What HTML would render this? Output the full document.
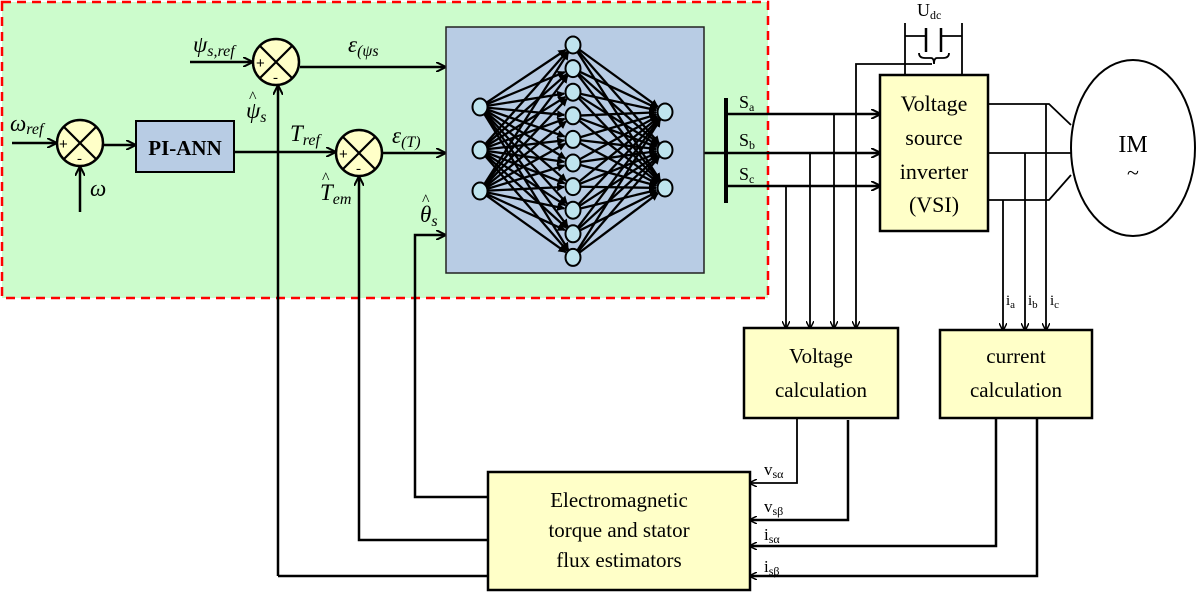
<!DOCTYPE html>
<html><head><meta charset="utf-8"><style>
html,body{margin:0;padding:0;background:#fff;}
svg{display:block;}
text{font-family:"Liberation Serif",serif;fill:#000;}
.it{font-style:italic;}
</style></head><body>
<svg width="1200" height="595" viewBox="0 0 1200 595" xmlns="http://www.w3.org/2000/svg">
<defs>
<marker id="a" markerWidth="10" markerHeight="10" refX="9" refY="5" orient="auto" markerUnits="userSpaceOnUse">
<path d="M0,0 L10,5 L0,10" fill="none" stroke="#000" stroke-width="2"/></marker>
<marker id="s" markerWidth="8" markerHeight="8" refX="7" refY="4" orient="auto" markerUnits="userSpaceOnUse">
<path d="M0,0 L8,4 L0,8" fill="none" stroke="#000" stroke-width="1.5"/></marker>
<marker id="n" markerWidth="8" markerHeight="8" refX="7" refY="4" orient="auto" markerUnits="userSpaceOnUse">
<path d="M0,0 L8,4 L0,8 z" fill="#000"/></marker>
</defs>
<rect x="2" y="2" width="766" height="296" fill="#ccfccc" stroke="#f00" stroke-width="2.5" stroke-dasharray="9,6"/>
<g stroke="#000" stroke-width="2.5" fill="none">
<line x1="12" y1="143" x2="56" y2="143" marker-end="url(#a)"/>
<line x1="80" y1="212" x2="80" y2="167" marker-end="url(#a)"/>
<line x1="104" y1="145" x2="135" y2="145" marker-end="url(#a)"/>
<line x1="234" y1="152" x2="335" y2="152" marker-end="url(#a)"/>
<line x1="190" y1="62" x2="252" y2="62" marker-end="url(#a)"/>
<line x1="300" y1="67" x2="445" y2="67" marker-end="url(#a)"/>
<line x1="383" y1="153" x2="445" y2="153" marker-end="url(#a)"/>
<polyline points="278,576 278,86" marker-end="url(#a)"/>
<polyline points="488,576 278,576"/>
<polyline points="488,540 359,540 359,177" marker-end="url(#a)"/>
<polyline points="488,497 415,497 415,235 445,235" marker-end="url(#a)"/>
<line x1="704" y1="153" x2="726" y2="153"/>
<line x1="726" y1="98" x2="726" y2="203" stroke-width="4"/>
<line x1="726" y1="114" x2="880" y2="114" marker-end="url(#a)"/>
<line x1="726" y1="153" x2="880" y2="153" marker-end="url(#a)"/>
<line x1="726" y1="186" x2="880" y2="186" marker-end="url(#a)"/>
</g>
<g stroke="#000" stroke-width="1.8" fill="none">
<line x1="786" y1="186" x2="786" y2="328" marker-end="url(#s)"/>
<line x1="810" y1="153" x2="810" y2="328" marker-end="url(#s)"/>
<line x1="834" y1="114" x2="834" y2="328" marker-end="url(#s)"/>
<polyline points="932,64 856,64 856,328" marker-end="url(#s)"/>
<polyline points="905,75 905,23"/><polyline points="962,75 962,23"/>
<line x1="905" y1="36" x2="926" y2="36"/><line x1="941" y1="36" x2="962" y2="36"/>
<line x1="926" y1="28" x2="926" y2="52" stroke-width="2.5"/><line x1="941" y1="28" x2="941" y2="52" stroke-width="2.5"/>
<path d="M919,53 q0,5 6,5 h6 q3,0 3,6 q0,-6 3,-6 h6 q6,0 6,-5"/>
<polyline points="988,104 1049,104 1071,125"/>
<line x1="988" y1="153" x2="1071" y2="153"/>
<polyline points="988,200 1049,200 1071,175"/>
<line x1="1003" y1="200" x2="1003" y2="330" marker-end="url(#s)"/>
<line x1="1025" y1="153" x2="1025" y2="330" marker-end="url(#s)"/>
<line x1="1046" y1="104" x2="1046" y2="330" marker-end="url(#s)"/>
<polyline points="797,418 797,483 750,483" marker-end="url(#s)"/>
<polyline points="848,420 848,520 750,520" marker-end="url(#s)" stroke-width="2.5"/>
<polyline points="996,418 996,546 750,546" marker-end="url(#s)" stroke-width="2.5"/>
<polyline points="1037,418 1037,576 750,576" marker-end="url(#s)" stroke-width="2.5"/>
</g>
<g stroke="#000" stroke-width="2.5" fill="#ffffc8">
<circle cx="80" cy="143" r="23"/><circle cx="276" cy="62" r="23"/><circle cx="359" cy="153" r="23"/>
</g>
<g stroke="#000" stroke-width="2.2">
<path d="M64,127 L96,159 M96,127 L64,159"/>
<path d="M260,46 L292,78 M292,46 L260,78"/>
<path d="M343,137 L375,169 M375,137 L343,169"/>
</g>
<g font-size="15">
<text x="59" y="149" style="font-family:'Liberation Sans',sans-serif">+</text><text x="77" y="163">-</text>
<text x="256" y="68" style="font-family:'Liberation Sans',sans-serif">+</text><text x="273" y="82">-</text>
<text x="339" y="159" style="font-family:'Liberation Sans',sans-serif">+</text><text x="356" y="173">-</text>
</g>
<rect x="136" y="121" width="98" height="51" fill="#b8cce4" stroke="#000" stroke-width="2"/>
<text x="185" y="155" text-anchor="middle" font-size="21" font-weight="bold">PI-ANN</text>
<rect x="446" y="27" width="258" height="246" fill="#b8cce4" stroke="#222" stroke-width="1.5"/>
<g stroke="#000" stroke-width="2.3" id="nnl"></g>
<g id="nn"></g>
<rect x="880" y="75" width="108" height="156" fill="#ffffc8" stroke="#000" stroke-width="2.5"/>
<g font-size="22" text-anchor="middle">
<text x="934" y="111">Voltage</text><text x="934" y="145">source</text><text x="934" y="179">inverter</text><text x="934" y="212">(VSI)</text>
</g>
<ellipse cx="1133" cy="148" rx="62" ry="88" fill="#fff" stroke="#000" stroke-width="2"/>
<text x="1133" y="152" text-anchor="middle" font-size="24">IM</text>
<text x="1133" y="180" text-anchor="middle" font-size="22">~</text>
<rect x="744" y="328" width="154" height="90" fill="#ffffc8" stroke="#000" stroke-width="2.5"/>
<text x="821" y="363" text-anchor="middle" font-size="21">Voltage</text>
<text x="821" y="397" text-anchor="middle" font-size="21">calculation</text>
<rect x="940" y="330" width="152" height="88" fill="#ffffc8" stroke="#000" stroke-width="2.5"/>
<text x="1016" y="363" text-anchor="middle" font-size="21">current</text>
<text x="1016" y="397" text-anchor="middle" font-size="21">calculation</text>
<rect x="488" y="472" width="262" height="118" fill="#ffffc8" stroke="#000" stroke-width="2.5"/>
<g font-size="21" text-anchor="middle">
<text x="619" y="507">Electromagnetic</text><text x="619" y="537">torque and stator</text><text x="619" y="567">flux estimators</text>
</g>
<g class="it" font-size="23">
<text x="10" y="131">ω<tspan font-size="16" dy="3">ref</tspan></text>
<text x="90" y="196">ω</text>
<text x="193" y="52">ψ<tspan font-size="16" dy="4">s,ref</tspan></text>
<text x="246" y="118">ψ<tspan font-size="16" dy="4">s</tspan></text>
<text x="249" y="102" font-style="normal" font-size="16">^</text>
<text x="348" y="52">ε<tspan font-size="16" dy="4">(ψ</tspan><tspan font-size="16">s</tspan></text>
<text x="290" y="141">T<tspan font-size="16" dy="4">ref</tspan></text>
<text x="392" y="143">ε<tspan font-size="16" dy="4">(T)</tspan></text>
<text x="320" y="200">T<tspan font-size="16" dy="4">em</tspan></text>
<text x="322" y="183" font-style="normal" font-size="16">^</text>
<text x="420" y="222">θ<tspan font-size="16" dy="4">s</tspan></text>
<text x="422" y="205" font-style="normal" font-size="16">^</text>
</g>
<g font-size="18">
<text x="739" y="108">S<tspan font-size="12" dy="3">a</tspan></text>
<text x="739" y="146">S<tspan font-size="12" dy="3">b</tspan></text>
<text x="739" y="180">S<tspan font-size="12" dy="3">c</tspan></text>
<text x="917" y="16">U<tspan font-size="12" dy="3">dc</tspan></text>
<text x="1006" y="305" font-size="15">i<tspan font-size="11" dy="3">a</tspan></text>
<text x="1028" y="305" font-size="15">i<tspan font-size="11" dy="3">b</tspan></text>
<text x="1050" y="305" font-size="15">i<tspan font-size="11" dy="3">c</tspan></text>
<text x="764" y="475" font-size="17">v<tspan font-size="12" dy="3">sα</tspan></text>
<text x="764" y="512" font-size="17">v<tspan font-size="12" dy="3">sβ</tspan></text>
<text x="764" y="540" font-size="17">i<tspan font-size="12" dy="3">sα</tspan></text>
<text x="764" y="572" font-size="17">i<tspan font-size="12" dy="3">sβ</tspan></text>
</g>
<script>
(function(){
var ns="http://www.w3.org/2000/svg";
var I=[107,150,191].map(function(y){return[480,y]});
var H=[];for(var i=0;i<10;i++)H.push([573,45+i*23.6]);
var O=[112,150,188].map(function(y){return[665,y]});
var L=document.getElementById('nnl'),N=document.getElementById('nn');
function ln(a,b){var dx=b[0]-a[0],dy=b[1]-a[1],d=Math.sqrt(dx*dx+dy*dy),k=(d-9)/d;var l=document.createElementNS(ns,'line');l.setAttribute('x1',a[0]);l.setAttribute('y1',a[1]);l.setAttribute('x2',a[0]+dx*k);l.setAttribute('y2',a[1]+dy*k);l.setAttribute('marker-end','url(#n)');L.appendChild(l);}
I.forEach(function(a){H.forEach(function(b){ln(a,b)})});
H.forEach(function(a){O.forEach(function(b){ln(a,b)})});
I.concat(H,O).forEach(function(p){var c=document.createElementNS(ns,'ellipse');c.setAttribute('cx',p[0]);c.setAttribute('cy',p[1]);c.setAttribute('rx',7.5);c.setAttribute('ry',8.5);c.setAttribute('fill','#bfe4ee');c.setAttribute('stroke','#000');c.setAttribute('stroke-width','2');N.appendChild(c);});
})();
</script>
</svg>
</body></html>
